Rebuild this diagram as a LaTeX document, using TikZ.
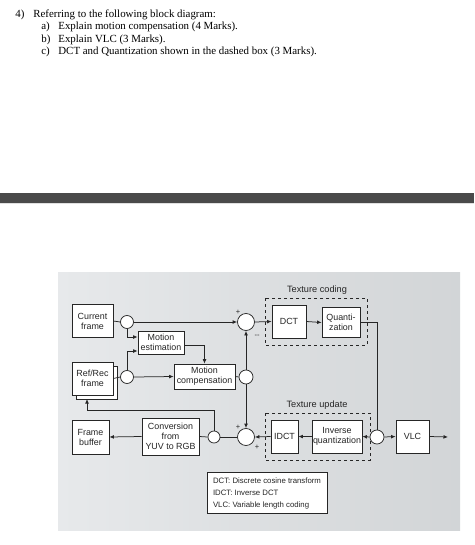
\documentclass[tikz,border=0pt]{standalone}
\usepackage{fontspec}
\setmainfont{Liberation Serif}
\newfontfamily\diagfont{Liberation Sans}
\usetikzlibrary{arrows.meta,shadows}
\tikzset{>={Latex[length=4.5pt,width=3.8pt]}}
\definecolor{barcol}{HTML}{4A4A4A}
\definecolor{panelL}{HTML}{E7E9EB}
\definecolor{panelR}{HTML}{D2D5D7}

\begin{document}
\begin{tikzpicture}[x=1pt,y=-1pt,line width=0.75pt,color=black!85,
    blk/.style={draw, fill=white, inner sep=1pt, align=center,
      font=\diagfont\fontsize{8.9}{10}\selectfont},
    junc/.style={circle, draw, fill=white, inner sep=0pt, minimum size=13pt},
    sumj/.style={circle, draw, fill=white, inner sep=0pt, minimum size=17pt},
    lbl/.style={inner sep=0pt, font=\diagfont\fontsize{9.2}{10}\selectfont},
    sgn/.style={inner sep=0pt, font=\diagfont\fontsize{7.5}{7.5}\selectfont},
    q/.style={anchor=base west, inner sep=0pt, text=black,
      font=\fontsize{10.9}{12}\selectfont}]
    \useasboundingbox (0,0) rectangle (474,545);
    % question
    \node[q] (qn) at (15,17.5) {4)};
    \node[q] (qt) at (33,17.5) {Referring to the following block diagram:};
    \node[q] (qa) at (41,30) {a)};
    \node[q] (qat) at (58,30) {Explain motion compensation (4 Marks).};
    \node[q] (qb) at (41,42.2) {b)};
    \node[q] (qbt) at (58,42.2) {Explain VLC (3 Marks).};
    \node[q] (qc) at (41,54.5) {c)};
    \node[q] (qct) at (58,54.5) {DCT and Quantization shown in the dashed box (3 Marks).};
    % separator bar
    \fill[barcol] (0,193) rectangle (474,203);
    \fill[black!12] (0,203) rectangle (474,204);
    % panel
    \shade[left color=panelL, right color=panelR] (58,272) rectangle (460,530);
    % dashed boxes
    \draw[dashed] (265,298) rectangle (367,345);
    \node[lbl] (tcl) at (317,290.5) {Texture coding};
    \draw[dashed] (265,413) rectangle (370,460);
    \node[lbl] (tul) at (317,405.5) {Texture update};
    % blocks
    \node[blk, minimum width=41pt, minimum height=33pt] (cur) at (92.5,321) {Current\\frame};
    \node[blk, minimum width=41pt, minimum height=33pt,
      copy shadow={shadow xshift=4pt, shadow yshift=-4pt, draw, fill=white}] (ref) at (92.5,378.5) {Ref/Rec\\frame};
    \node[blk, minimum width=46pt, minimum height=23pt] (me) at (161,342.5) {Motion\\estimation};
    \node[blk, minimum width=61pt, minimum height=25pt] (mc) at (204.5,376.5) {Motion\\compensation};
    \node[blk, minimum width=34pt, minimum height=33pt] (dct) at (289,321.5) {DCT};
    \node[blk, minimum width=38pt, minimum height=30pt] (qz) at (341,322.5) {Quanti-\\zation};
    \node[blk, minimum width=33pt, minimum height=33pt] (vlc) at (412.5,436.5) {VLC};
    \node[blk, minimum width=50pt, minimum height=33pt] (iq) at (337,436.5) {Inverse\\quantization};
    \node[blk, minimum width=27pt, minimum height=33pt] (idct) at (284.5,436.5) {IDCT};
    \node[blk, minimum width=57pt, minimum height=37pt] (conv) at (170.5,436.5) {Conversion\\from\\YUV to RGB};
    \node[blk, minimum width=37pt, minimum height=34pt] (fb) at (90.5,437) {Frame\\buffer};
    \node[blk, minimum width=120pt, minimum height=40pt, align=left, inner sep=5pt,
      font=\diagfont\fontsize{7.8}{12}\selectfont] (leg) at (267,493)
      {DCT: Discrete cosine transform\\IDCT: Inverse DCT\\VLC: Variable length coding};
    % junctions
    \node[junc] (c1) at (127,322) {};
    \node[junc] (c2) at (127,377) {};
    \node[junc, minimum size=14pt] (c3) at (246,377) {};
    \node[sumj] (s1) at (246,322) {};
    \node[sumj] (s2) at (246,437) {};
    \node[junc, minimum size=14pt] (c4) at (377,437) {};
    \node[junc, minimum size=12pt] (c5) at (214,437) {};
    \node[sgn] (s1p) at (238,312) {+};
    \node[sgn] (s1m) at (257,336) {--};
    \node[sgn] (s2p) at (238,427) {+};
    \node[sgn] (s2q) at (257,447) {+};
    \coordinate (out) at (448,437);
    \coordinate (fbk) at (87,410);
    \coordinate (rb) at (87,399);
    % connections
    \draw (cur.east) -- (c1.west);
    \draw[->] (c1.east) -- (s1.west);
    \draw[->] (c1.south) |- ([yshift=5.5pt]me.west);
    \draw (ref.east) -- (c2.west);
    \draw[->] (c2.north) |- ([yshift=-8.5pt]me.west);
    \draw[->] (c2.east) -- (mc.west);
    \draw[->] ([yshift=-2.5pt]me.east) -| (mc.north);
    \draw (mc.east) -- (c3.west);
    \draw[->] (c3.north) -- (s1.south);
    \draw[->] (c3.south) -- (s2.north);
    \draw[->] (s1.east) -- (dct.west);
    \draw[->] (dct.east) -- (qz.west);
    \draw (qz.east) -| (c4.north);
    \draw[->] (c4.east) -- (vlc.west);
    \draw[->] (vlc.east) -- (out);
    \draw[->] (c4.west) -- (iq.east);
    \draw[->] (iq.west) -- (idct.east);
    \draw[->] (idct.west) -- (s2.east);
    \draw (s2.west) -- (c5.east);
    \draw (c5.west) -- (conv.east);
    \draw[->] (conv.west) -- (fb.east);
    \draw[->] (c5.north) -- (c5.north |- fbk) -- (fbk) -- (rb);
\end{tikzpicture}
\end{document}
